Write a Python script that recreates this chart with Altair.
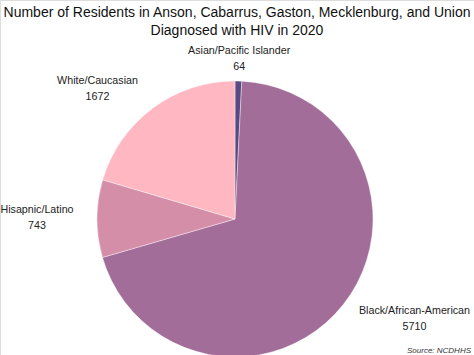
import altair as alt
import pandas as pd

categories = ["Asian/Pacific Islander", "Black/African-American", "Hisapnic/Latino", "White/Caucasian"]
counts = [64, 5710, 743, 1672]
colors = ["#584a82", "#a26d98", "#d58ea8", "#ffb7c1"]
title_lines = ["Number of Residents in Anson, Cabarrus, Gaston, Mecklenburg, and Union",
               "Diagnosed with HIV in 2020"]
source = "Source: NCDHHS"

df = pd.DataFrame({"cat": categories, "n": counts, "idx": list(range(len(categories)))})

CX, CY, R = 235, 219, 138
FONT = "Liberation Sans"

base = alt.Chart(df)

pie = base.mark_arc(outerRadius=R, stroke="white", strokeWidth=0.4).encode(
    theta=alt.Theta("n:Q", stack=True),
    color=alt.Color("cat:N", scale=alt.Scale(domain=categories, range=colors), legend=None),
    order=alt.Order("idx:Q"),
    x=alt.value(CX),
    y=alt.value(CY),
)

lab_base = base.transform_window(
    cum="sum(n)", sort=[alt.SortField("idx")], frame=[None, 0]
).transform_joinaggregate(total="sum(n)").transform_calculate(
    mid="(datum.cum - datum.n/2) / datum.total * 2 * PI",
    label="datum.cat + '\\n' + format(datum.n, 'd')",
)

# per-category label placement: (radius, dx, dy)
placement = {
    "Asian/Pacific Islander": (168, 0, 0),
    "Black/African-American": (202, 21, -33),
    "Hisapnic/Latino": (197, -1, -8),
    "White/Caucasian": (188, -25, 13),
}

layers = [pie]
for c in categories:
    r, dx, dy = placement[c]
    layers.append(
        lab_base.transform_filter(alt.datum.cat == c).mark_text(
            radius=r, dx=dx, dy=dy, lineBreak="\n", font=FONT, fontSize=10.7,
            lineHeight=16, color="#222222", align="center", baseline="middle",
        ).encode(
            theta=alt.Theta("mid:Q", scale=None),
            text="label:N",
            x=alt.value(CX),
            y=alt.value(CY),
        )
    )

src = alt.Chart(pd.DataFrame({"t": [source]})).mark_text(
    font=FONT, fontSize=8, fontStyle="italic", align="right", baseline="middle", color="#333333"
).encode(text="t:N", x=alt.value(471), y=alt.value(351))
layers.append(src)

chart = alt.layer(*layers).properties(
    width=474,
    height=355,
    autosize=alt.AutoSizeParams(type="none"),
    padding=0,
    title=alt.TitleParams(
        title_lines, font=FONT, fontSize=14, fontWeight="normal", lineHeight=18,
        anchor="middle", color="#111111", baseline="top", offset=0, dy=38,
    ),
).configure_view(stroke=None).configure(background="white")

chart.save("out.html", embed_options={"renderer": "svg", "actions": False})
